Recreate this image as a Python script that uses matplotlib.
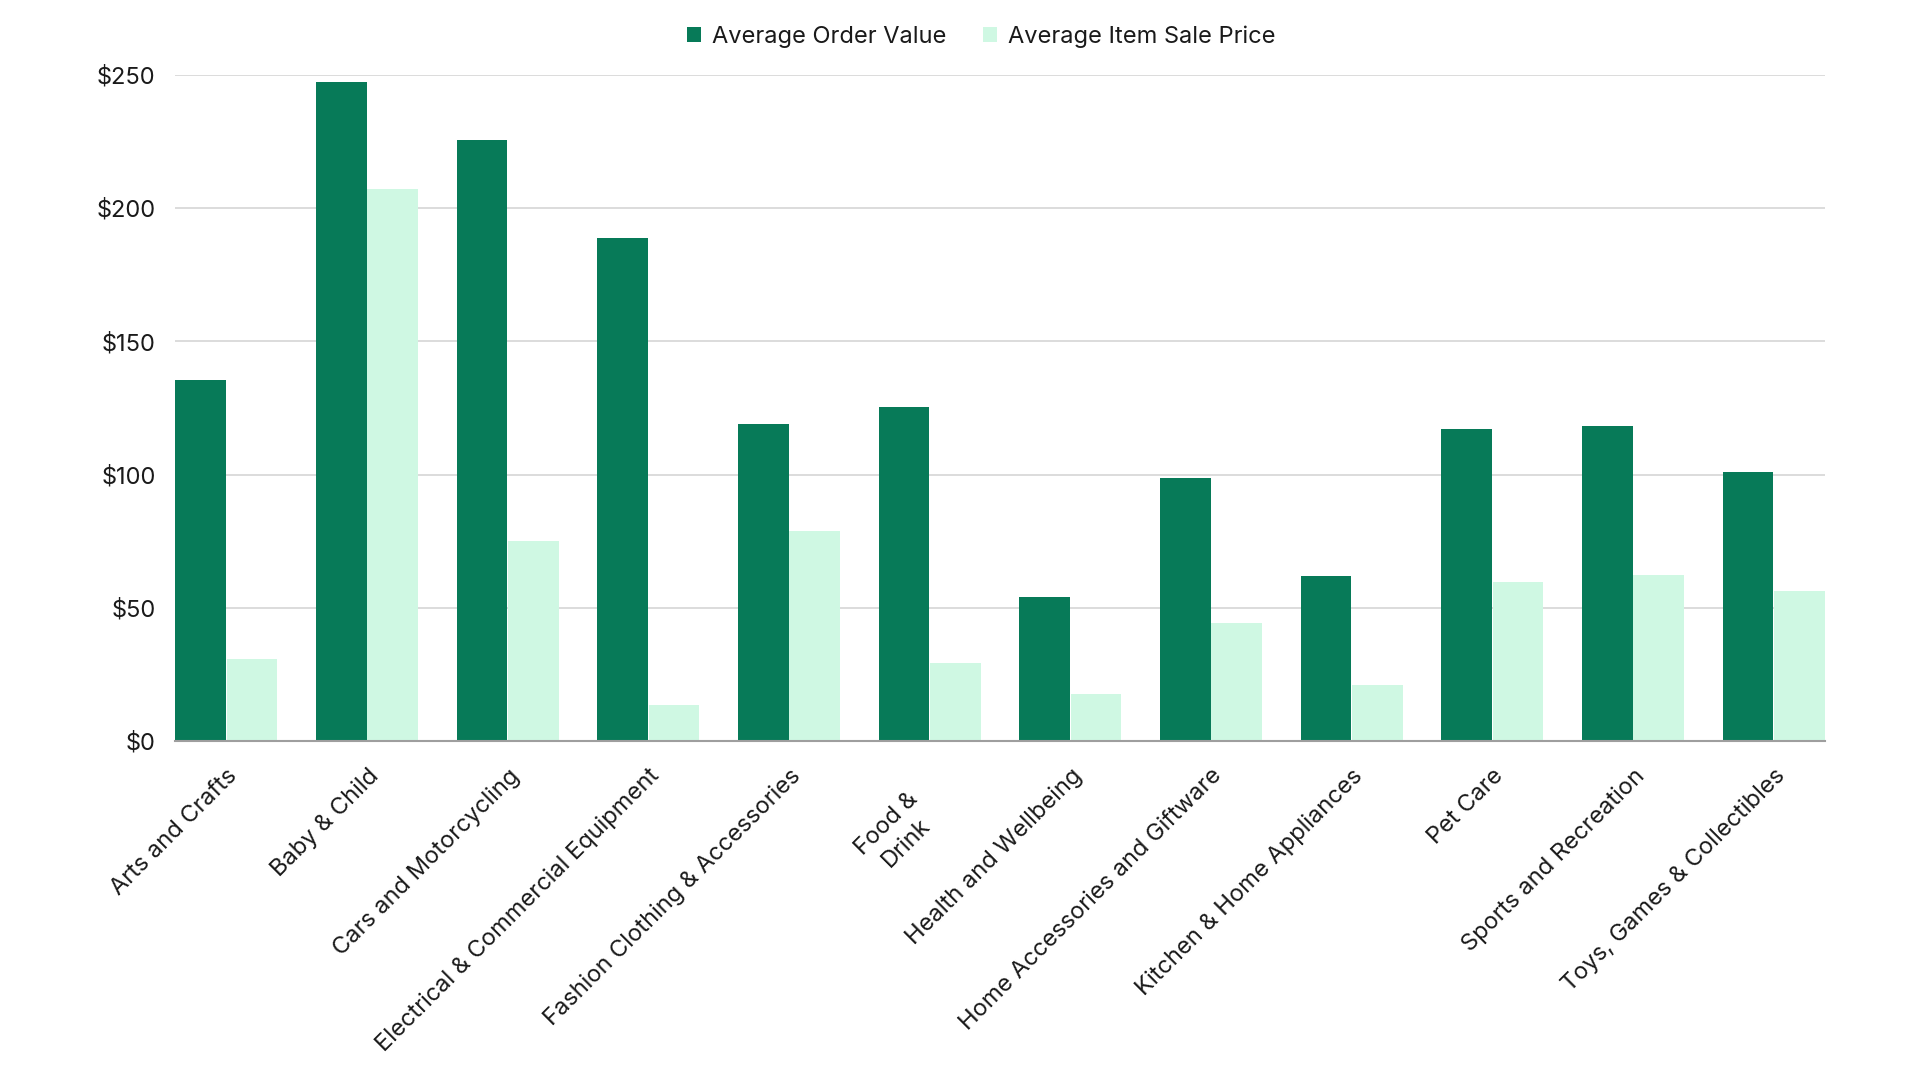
import numpy as np
import matplotlib.pyplot as plt
from matplotlib.ticker import FuncFormatter
from matplotlib.transforms import ScaledTranslation

plt.rcParams['font.family'] = ['Inter', 'DejaVu Sans']

categories = ["Arts and Crafts", "Baby & Child", "Cars and Motorcycling",
              "Electrical & Commercial Equipment", "Fashion Clothing & Accessories",
              "Food &\nDrink", "Health and Wellbeing", "Home Accessories and Giftware",
              "Kitchen & Home Appliances", "Pet Care", "Sports and Recreation",
              "Toys, Games & Collectibles"]
order_value = [135.5, 247.5, 225.6, 189.0, 118.9, 125.5, 54.2, 98.6, 61.8, 117.0, 118.4, 101.1]
item_price = [30.8, 207.2, 74.9, 13.5, 78.7, 29.2, 17.5, 44.2, 20.9, 59.6, 62.5, 56.3]
yticks = [0, 50, 100, 150, 200, 250]

dark = "#077A58"
light = "#CFF8E3"

fig = plt.figure(figsize=(19.2, 10.8), dpi=100)
ax = fig.add_axes([175/1920, 1 - 741/1080, (1825-175)/1920, (741-75)/1080])

x = np.arange(len(categories))
w = 0.362
ax.bar(x - 0.1825, order_value, w, color=dark, label="Average Order Value", zorder=3)
ax.bar(x + 0.1825, item_price, w, color=light, label="Average Item Sale Price", zorder=3)

ax.set_xlim(-0.365, len(categories) - 1 + 0.365)
ax.set_ylim(0, 250)
ax.set_yticks(yticks)
ax.yaxis.set_major_formatter(FuncFormatter(lambda v, p: f"${v:.0f}"))
ax.grid(axis='y', color="#D9D9D9", linewidth=1.3, zorder=0)
for s in ['top', 'right', 'left']:
    ax.spines[s].set_visible(False)
ax.spines['bottom'].set_color("#9E9E9E")
ax.spines['bottom'].set_linewidth(1.5)
ax.spines['bottom'].set_zorder(4)
ax.tick_params(axis='y', length=0, pad=14, labelsize=17, labelcolor="#1a1a1a")
ax.tick_params(axis='x', length=0, pad=17)

ax.set_xticks(x)
labels = ax.set_xticklabels(categories, rotation=45, ha='right', va='top',
                            rotation_mode='anchor', fontsize=17, color="#1a1a1a",
                            linespacing=1.36)
# wrapped label: lines centred, block sits back from the tick
for lab in labels:
    if "\n" in lab.get_text():
        lab.set_ha('center')
        lab.set_multialignment('center')
        lab.set_transform(lab.get_transform() +
                          ScaledTranslation(-0.51, -0.51, fig.dpi_scale_trans))

fig.legend(loc='center', bbox_to_anchor=(0.511, 0.966), ncol=2, frameon=False,
           fontsize=17, handlelength=0.6, handleheight=0.6, handletextpad=0.45,
           columnspacing=1.55, labelcolor="#1a1a1a")

fig.savefig("out.png", dpi=100, facecolor="white")
